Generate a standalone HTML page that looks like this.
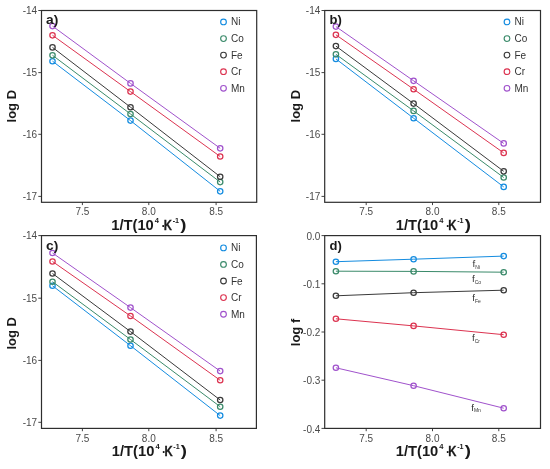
<!DOCTYPE html>
<html><head><meta charset="utf-8"><title>Figure</title>
<style>
html,body{margin:0;padding:0;background:#fff;}
body{width:550px;height:469px;overflow:hidden;}
svg{display:block;}
text{font-family:"Liberation Sans",sans-serif;}
.tk{font-size:10px;fill:#4a4a4a;}
.xl text{font-size:14.5px;font-weight:bold;fill:#1a1a1a;}
.xl text.sup{font-size:7.8px;}
.yl{font-size:13px;font-weight:bold;fill:#1a1a1a;}
.sup{font-size:9.4px;}
.lg{font-size:10px;fill:#333;}
.pl{font-size:13px;font-weight:bold;fill:#1a1a1a;}
.fl{font-size:9.9px;fill:#333;}
.sub{font-size:5px;}
</style></head><body>
<svg width="550" height="469" viewBox="0 0 550 469">
<rect x="0" y="0" width="550" height="469" fill="#ffffff"/>
<rect x="41.5" y="10.5" width="215.2" height="191.8" fill="none" stroke="#2e2e2e" stroke-width="1.2"/>
<line x1="38.3" y1="10.5" x2="41.5" y2="10.5" stroke="#2e2e2e" stroke-width="0.9"/>
<text x="37.1" y="14.1" text-anchor="end" class="tk">-14</text>
<line x1="38.3" y1="72.6" x2="41.5" y2="72.6" stroke="#2e2e2e" stroke-width="0.9"/>
<text x="37.1" y="76.19999999999999" text-anchor="end" class="tk">-15</text>
<line x1="38.3" y1="134.3" x2="41.5" y2="134.3" stroke="#2e2e2e" stroke-width="0.9"/>
<text x="37.1" y="137.9" text-anchor="end" class="tk">-16</text>
<line x1="38.3" y1="196.4" x2="41.5" y2="196.4" stroke="#2e2e2e" stroke-width="0.9"/>
<text x="37.1" y="200.0" text-anchor="end" class="tk">-17</text>
<line x1="82.4" y1="202.3" x2="82.4" y2="205.10000000000002" stroke="#2e2e2e" stroke-width="0.9"/>
<text x="82.4" y="215.0" text-anchor="middle" class="tk">7.5</text>
<line x1="148.8" y1="202.3" x2="148.8" y2="205.10000000000002" stroke="#2e2e2e" stroke-width="0.9"/>
<text x="148.8" y="215.0" text-anchor="middle" class="tk">8.0</text>
<line x1="216.1" y1="202.3" x2="216.1" y2="205.10000000000002" stroke="#2e2e2e" stroke-width="0.9"/>
<text x="216.1" y="215.0" text-anchor="middle" class="tk">8.5</text>
<g class="xl"><text x="111.2" y="229.9" textLength="42.6" lengthAdjust="spacingAndGlyphs">1/T(10</text><text x="154.8" y="222.5" class="sup" textLength="4.2" lengthAdjust="spacingAndGlyphs">4</text><text x="161.4" y="229.9" style="font-size:12px">·</text><text x="163.8" y="229.9" textLength="8.2" lengthAdjust="spacingAndGlyphs" stroke="#1a1a1a" stroke-width="0.35">K</text><text x="172.7" y="222.5" class="sup" textLength="6.4" lengthAdjust="spacingAndGlyphs">-1</text><text x="180.2" y="229.9" textLength="6.2" lengthAdjust="spacingAndGlyphs">)</text></g>
<text transform="translate(16.2,106.2) rotate(-90)" text-anchor="middle" class="yl">log D</text>
<polyline points="52.5,61.2 130.5,120.6 220.2,191.3" fill="none" stroke="#148ce0" stroke-width="1.0"/>
<circle cx="52.5" cy="61.2" r="2.7" fill="none" stroke="#148ce0" stroke-width="1.25"/>
<circle cx="130.5" cy="120.6" r="2.7" fill="none" stroke="#148ce0" stroke-width="1.25"/>
<circle cx="220.2" cy="191.3" r="2.7" fill="none" stroke="#148ce0" stroke-width="1.25"/>
<polyline points="52.5,55.3 130.5,114.0 220.2,182.1" fill="none" stroke="#3a8a6a" stroke-width="1.0"/>
<circle cx="52.5" cy="55.3" r="2.7" fill="none" stroke="#3a8a6a" stroke-width="1.25"/>
<circle cx="130.5" cy="114.0" r="2.7" fill="none" stroke="#3a8a6a" stroke-width="1.25"/>
<circle cx="220.2" cy="182.1" r="2.7" fill="none" stroke="#3a8a6a" stroke-width="1.25"/>
<polyline points="52.5,47.4 130.5,107.2 220.2,176.7" fill="none" stroke="#3a3a3a" stroke-width="1.0"/>
<circle cx="52.5" cy="47.4" r="2.7" fill="none" stroke="#3a3a3a" stroke-width="1.25"/>
<circle cx="130.5" cy="107.2" r="2.7" fill="none" stroke="#3a3a3a" stroke-width="1.25"/>
<circle cx="220.2" cy="176.7" r="2.7" fill="none" stroke="#3a3a3a" stroke-width="1.25"/>
<polyline points="52.5,35.3 130.5,91.6 220.2,156.5" fill="none" stroke="#dc3350" stroke-width="1.0"/>
<circle cx="52.5" cy="35.3" r="2.7" fill="none" stroke="#dc3350" stroke-width="1.25"/>
<circle cx="130.5" cy="91.6" r="2.7" fill="none" stroke="#dc3350" stroke-width="1.25"/>
<circle cx="220.2" cy="156.5" r="2.7" fill="none" stroke="#dc3350" stroke-width="1.25"/>
<polyline points="52.5,26.1 130.5,83.4 220.2,148.3" fill="none" stroke="#a052cc" stroke-width="1.0"/>
<circle cx="52.5" cy="26.1" r="2.7" fill="none" stroke="#a052cc" stroke-width="1.25"/>
<circle cx="130.5" cy="83.4" r="2.7" fill="none" stroke="#a052cc" stroke-width="1.25"/>
<circle cx="220.2" cy="148.3" r="2.7" fill="none" stroke="#a052cc" stroke-width="1.25"/>
<circle cx="223.5" cy="21.9" r="2.85" fill="none" stroke="#148ce0" stroke-width="1.15"/>
<text x="231.0" y="25.4" class="lg">Ni</text>
<circle cx="223.5" cy="38.6" r="2.85" fill="none" stroke="#3a8a6a" stroke-width="1.15"/>
<text x="231.0" y="42.1" class="lg">Co</text>
<circle cx="223.5" cy="55.1" r="2.85" fill="none" stroke="#3a3a3a" stroke-width="1.15"/>
<text x="231.0" y="58.6" class="lg">Fe</text>
<circle cx="223.5" cy="71.7" r="2.85" fill="none" stroke="#dc3350" stroke-width="1.15"/>
<text x="231.0" y="75.2" class="lg">Cr</text>
<circle cx="223.5" cy="88.3" r="2.85" fill="none" stroke="#a052cc" stroke-width="1.15"/>
<text x="231.0" y="91.8" class="lg">Mn</text>
<text x="46.0" y="24.2" class="pl" textLength="12.3" lengthAdjust="spacingAndGlyphs">a)</text>
<rect x="324.7" y="10.5" width="215.8" height="191.8" fill="none" stroke="#2e2e2e" stroke-width="1.2"/>
<line x1="321.5" y1="10.5" x2="324.7" y2="10.5" stroke="#2e2e2e" stroke-width="0.9"/>
<text x="320.3" y="14.1" text-anchor="end" class="tk">-14</text>
<line x1="321.5" y1="72.6" x2="324.7" y2="72.6" stroke="#2e2e2e" stroke-width="0.9"/>
<text x="320.3" y="76.19999999999999" text-anchor="end" class="tk">-15</text>
<line x1="321.5" y1="134.3" x2="324.7" y2="134.3" stroke="#2e2e2e" stroke-width="0.9"/>
<text x="320.3" y="137.9" text-anchor="end" class="tk">-16</text>
<line x1="321.5" y1="196.4" x2="324.7" y2="196.4" stroke="#2e2e2e" stroke-width="0.9"/>
<text x="320.3" y="200.0" text-anchor="end" class="tk">-17</text>
<line x1="366.2" y1="202.3" x2="366.2" y2="205.10000000000002" stroke="#2e2e2e" stroke-width="0.9"/>
<text x="366.2" y="215.0" text-anchor="middle" class="tk">7.5</text>
<line x1="432.5" y1="202.3" x2="432.5" y2="205.10000000000002" stroke="#2e2e2e" stroke-width="0.9"/>
<text x="432.5" y="215.0" text-anchor="middle" class="tk">8.0</text>
<line x1="498.8" y1="202.3" x2="498.8" y2="205.10000000000002" stroke="#2e2e2e" stroke-width="0.9"/>
<text x="498.8" y="215.0" text-anchor="middle" class="tk">8.5</text>
<g class="xl"><text x="395.7" y="229.9" textLength="42.6" lengthAdjust="spacingAndGlyphs">1/T(10</text><text x="439.3" y="222.5" class="sup" textLength="4.2" lengthAdjust="spacingAndGlyphs">4</text><text x="445.9" y="229.9" style="font-size:12px">·</text><text x="448.3" y="229.9" textLength="8.2" lengthAdjust="spacingAndGlyphs" stroke="#1a1a1a" stroke-width="0.35">K</text><text x="457.2" y="222.5" class="sup" textLength="6.4" lengthAdjust="spacingAndGlyphs">-1</text><text x="464.7" y="229.9" textLength="6.2" lengthAdjust="spacingAndGlyphs">)</text></g>
<text transform="translate(299.7,106.2) rotate(-90)" text-anchor="middle" class="yl">log D</text>
<polyline points="335.9,58.9 413.6,118.2 503.7,186.9" fill="none" stroke="#148ce0" stroke-width="1.0"/>
<circle cx="335.9" cy="58.9" r="2.7" fill="none" stroke="#148ce0" stroke-width="1.25"/>
<circle cx="413.6" cy="118.2" r="2.7" fill="none" stroke="#148ce0" stroke-width="1.25"/>
<circle cx="503.7" cy="186.9" r="2.7" fill="none" stroke="#148ce0" stroke-width="1.25"/>
<polyline points="335.9,54.3 413.6,110.9 503.7,177.5" fill="none" stroke="#3a8a6a" stroke-width="1.0"/>
<circle cx="335.9" cy="54.3" r="2.7" fill="none" stroke="#3a8a6a" stroke-width="1.25"/>
<circle cx="413.6" cy="110.9" r="2.7" fill="none" stroke="#3a8a6a" stroke-width="1.25"/>
<circle cx="503.7" cy="177.5" r="2.7" fill="none" stroke="#3a8a6a" stroke-width="1.25"/>
<polyline points="335.9,46.1 413.6,103.6 503.7,171.3" fill="none" stroke="#3a3a3a" stroke-width="1.0"/>
<circle cx="335.9" cy="46.1" r="2.7" fill="none" stroke="#3a3a3a" stroke-width="1.25"/>
<circle cx="413.6" cy="103.6" r="2.7" fill="none" stroke="#3a3a3a" stroke-width="1.25"/>
<circle cx="503.7" cy="171.3" r="2.7" fill="none" stroke="#3a3a3a" stroke-width="1.25"/>
<polyline points="335.9,34.8 413.6,89.2 503.7,152.9" fill="none" stroke="#dc3350" stroke-width="1.0"/>
<circle cx="335.9" cy="34.8" r="2.7" fill="none" stroke="#dc3350" stroke-width="1.25"/>
<circle cx="413.6" cy="89.2" r="2.7" fill="none" stroke="#dc3350" stroke-width="1.25"/>
<circle cx="503.7" cy="152.9" r="2.7" fill="none" stroke="#dc3350" stroke-width="1.25"/>
<polyline points="335.9,26.6 413.6,80.8 503.7,143.4" fill="none" stroke="#a052cc" stroke-width="1.0"/>
<circle cx="335.9" cy="26.6" r="2.7" fill="none" stroke="#a052cc" stroke-width="1.25"/>
<circle cx="413.6" cy="80.8" r="2.7" fill="none" stroke="#a052cc" stroke-width="1.25"/>
<circle cx="503.7" cy="143.4" r="2.7" fill="none" stroke="#a052cc" stroke-width="1.25"/>
<circle cx="507.0" cy="21.9" r="2.85" fill="none" stroke="#148ce0" stroke-width="1.15"/>
<text x="514.5" y="25.4" class="lg">Ni</text>
<circle cx="507.0" cy="38.6" r="2.85" fill="none" stroke="#3a8a6a" stroke-width="1.15"/>
<text x="514.5" y="42.1" class="lg">Co</text>
<circle cx="507.0" cy="55.1" r="2.85" fill="none" stroke="#3a3a3a" stroke-width="1.15"/>
<text x="514.5" y="58.6" class="lg">Fe</text>
<circle cx="507.0" cy="71.7" r="2.85" fill="none" stroke="#dc3350" stroke-width="1.15"/>
<text x="514.5" y="75.2" class="lg">Cr</text>
<circle cx="507.0" cy="88.3" r="2.85" fill="none" stroke="#a052cc" stroke-width="1.15"/>
<text x="514.5" y="91.8" class="lg">Mn</text>
<text x="329.5" y="24.2" class="pl" textLength="12.3" lengthAdjust="spacingAndGlyphs">b)</text>
<rect x="41.5" y="235.6" width="214.9" height="192.8" fill="none" stroke="#2e2e2e" stroke-width="1.2"/>
<line x1="38.3" y1="235.6" x2="41.5" y2="235.6" stroke="#2e2e2e" stroke-width="0.9"/>
<text x="37.1" y="239.2" text-anchor="end" class="tk">-14</text>
<line x1="38.3" y1="298.2" x2="41.5" y2="298.2" stroke="#2e2e2e" stroke-width="0.9"/>
<text x="37.1" y="301.8" text-anchor="end" class="tk">-15</text>
<line x1="38.3" y1="360.4" x2="41.5" y2="360.4" stroke="#2e2e2e" stroke-width="0.9"/>
<text x="37.1" y="364.0" text-anchor="end" class="tk">-16</text>
<line x1="38.3" y1="422.3" x2="41.5" y2="422.3" stroke="#2e2e2e" stroke-width="0.9"/>
<text x="37.1" y="425.90000000000003" text-anchor="end" class="tk">-17</text>
<line x1="82.4" y1="428.4" x2="82.4" y2="431.2" stroke="#2e2e2e" stroke-width="0.9"/>
<text x="82.4" y="442.09999999999997" text-anchor="middle" class="tk">7.5</text>
<line x1="148.8" y1="428.4" x2="148.8" y2="431.2" stroke="#2e2e2e" stroke-width="0.9"/>
<text x="148.8" y="442.09999999999997" text-anchor="middle" class="tk">8.0</text>
<line x1="216.1" y1="428.4" x2="216.1" y2="431.2" stroke="#2e2e2e" stroke-width="0.9"/>
<text x="216.1" y="442.09999999999997" text-anchor="middle" class="tk">8.5</text>
<g class="xl"><text x="111.8" y="456.3" textLength="42.6" lengthAdjust="spacingAndGlyphs">1/T(10</text><text x="155.4" y="448.9" class="sup" textLength="4.2" lengthAdjust="spacingAndGlyphs">4</text><text x="162.0" y="456.3" style="font-size:12px">·</text><text x="164.4" y="456.3" textLength="8.2" lengthAdjust="spacingAndGlyphs" stroke="#1a1a1a" stroke-width="0.35">K</text><text x="173.3" y="448.9" class="sup" textLength="6.4" lengthAdjust="spacingAndGlyphs">-1</text><text x="180.8" y="456.3" textLength="6.2" lengthAdjust="spacingAndGlyphs">)</text></g>
<text transform="translate(16.2,333.3) rotate(-90)" text-anchor="middle" class="yl">log D</text>
<polyline points="52.5,285.8 130.5,345.7 220.2,415.6" fill="none" stroke="#148ce0" stroke-width="1.0"/>
<circle cx="52.5" cy="285.8" r="2.7" fill="none" stroke="#148ce0" stroke-width="1.25"/>
<circle cx="130.5" cy="345.7" r="2.7" fill="none" stroke="#148ce0" stroke-width="1.25"/>
<circle cx="220.2" cy="415.6" r="2.7" fill="none" stroke="#148ce0" stroke-width="1.25"/>
<polyline points="52.5,281.7 130.5,339.5 220.2,406.7" fill="none" stroke="#3a8a6a" stroke-width="1.0"/>
<circle cx="52.5" cy="281.7" r="2.7" fill="none" stroke="#3a8a6a" stroke-width="1.25"/>
<circle cx="130.5" cy="339.5" r="2.7" fill="none" stroke="#3a8a6a" stroke-width="1.25"/>
<circle cx="220.2" cy="406.7" r="2.7" fill="none" stroke="#3a8a6a" stroke-width="1.25"/>
<polyline points="52.5,273.5 130.5,331.6 220.2,400.0" fill="none" stroke="#3a3a3a" stroke-width="1.0"/>
<circle cx="52.5" cy="273.5" r="2.7" fill="none" stroke="#3a3a3a" stroke-width="1.25"/>
<circle cx="130.5" cy="331.6" r="2.7" fill="none" stroke="#3a3a3a" stroke-width="1.25"/>
<circle cx="220.2" cy="400.0" r="2.7" fill="none" stroke="#3a3a3a" stroke-width="1.25"/>
<polyline points="52.5,261.5 130.5,316.0 220.2,380.3" fill="none" stroke="#dc3350" stroke-width="1.0"/>
<circle cx="52.5" cy="261.5" r="2.7" fill="none" stroke="#dc3350" stroke-width="1.25"/>
<circle cx="130.5" cy="316.0" r="2.7" fill="none" stroke="#dc3350" stroke-width="1.25"/>
<circle cx="220.2" cy="380.3" r="2.7" fill="none" stroke="#dc3350" stroke-width="1.25"/>
<polyline points="52.5,253.0 130.5,307.6 220.2,371.1" fill="none" stroke="#a052cc" stroke-width="1.0"/>
<circle cx="52.5" cy="253.0" r="2.7" fill="none" stroke="#a052cc" stroke-width="1.25"/>
<circle cx="130.5" cy="307.6" r="2.7" fill="none" stroke="#a052cc" stroke-width="1.25"/>
<circle cx="220.2" cy="371.1" r="2.7" fill="none" stroke="#a052cc" stroke-width="1.25"/>
<circle cx="223.5" cy="247.9" r="2.85" fill="none" stroke="#148ce0" stroke-width="1.15"/>
<text x="231.0" y="251.4" class="lg">Ni</text>
<circle cx="223.5" cy="264.4" r="2.85" fill="none" stroke="#3a8a6a" stroke-width="1.15"/>
<text x="231.0" y="267.9" class="lg">Co</text>
<circle cx="223.5" cy="281.0" r="2.85" fill="none" stroke="#3a3a3a" stroke-width="1.15"/>
<text x="231.0" y="284.5" class="lg">Fe</text>
<circle cx="223.5" cy="297.6" r="2.85" fill="none" stroke="#dc3350" stroke-width="1.15"/>
<text x="231.0" y="301.1" class="lg">Cr</text>
<circle cx="223.5" cy="314.2" r="2.85" fill="none" stroke="#a052cc" stroke-width="1.15"/>
<text x="231.0" y="317.7" class="lg">Mn</text>
<text x="46.0" y="250.0" class="pl" textLength="12.3" lengthAdjust="spacingAndGlyphs">c)</text>
<rect x="324.7" y="235.6" width="215.8" height="192.8" fill="none" stroke="#2e2e2e" stroke-width="1.2"/>
<line x1="321.5" y1="235.6" x2="324.7" y2="235.6" stroke="#2e2e2e" stroke-width="0.9"/>
<text x="320.3" y="239.7" text-anchor="end" class="tk">0.0</text>
<line x1="321.5" y1="283.8" x2="324.7" y2="283.8" stroke="#2e2e2e" stroke-width="0.9"/>
<text x="320.3" y="287.90000000000003" text-anchor="end" class="tk">-0.1</text>
<line x1="321.5" y1="332.0" x2="324.7" y2="332.0" stroke="#2e2e2e" stroke-width="0.9"/>
<text x="320.3" y="336.1" text-anchor="end" class="tk">-0.2</text>
<line x1="321.5" y1="380.2" x2="324.7" y2="380.2" stroke="#2e2e2e" stroke-width="0.9"/>
<text x="320.3" y="384.3" text-anchor="end" class="tk">-0.3</text>
<line x1="321.5" y1="428.4" x2="324.7" y2="428.4" stroke="#2e2e2e" stroke-width="0.9"/>
<text x="320.3" y="432.5" text-anchor="end" class="tk">-0.4</text>
<line x1="366.2" y1="428.4" x2="366.2" y2="431.2" stroke="#2e2e2e" stroke-width="0.9"/>
<text x="366.2" y="442.09999999999997" text-anchor="middle" class="tk">7.5</text>
<line x1="432.5" y1="428.4" x2="432.5" y2="431.2" stroke="#2e2e2e" stroke-width="0.9"/>
<text x="432.5" y="442.09999999999997" text-anchor="middle" class="tk">8.0</text>
<line x1="498.8" y1="428.4" x2="498.8" y2="431.2" stroke="#2e2e2e" stroke-width="0.9"/>
<text x="498.8" y="442.09999999999997" text-anchor="middle" class="tk">8.5</text>
<g class="xl"><text x="395.7" y="456.3" textLength="42.6" lengthAdjust="spacingAndGlyphs">1/T(10</text><text x="439.3" y="448.9" class="sup" textLength="4.2" lengthAdjust="spacingAndGlyphs">4</text><text x="445.9" y="456.3" style="font-size:12px">·</text><text x="448.3" y="456.3" textLength="8.2" lengthAdjust="spacingAndGlyphs" stroke="#1a1a1a" stroke-width="0.35">K</text><text x="457.2" y="448.9" class="sup" textLength="6.4" lengthAdjust="spacingAndGlyphs">-1</text><text x="464.7" y="456.3" textLength="6.2" lengthAdjust="spacingAndGlyphs">)</text></g>
<text transform="translate(299.7,332.5) rotate(-90)" text-anchor="middle" class="yl">log f</text>
<polyline points="335.9,261.7 413.6,259.2 503.7,256.1" fill="none" stroke="#148ce0" stroke-width="1.0"/>
<circle cx="335.9" cy="261.7" r="2.7" fill="none" stroke="#148ce0" stroke-width="1.25"/>
<circle cx="413.6" cy="259.2" r="2.7" fill="none" stroke="#148ce0" stroke-width="1.25"/>
<circle cx="503.7" cy="256.1" r="2.7" fill="none" stroke="#148ce0" stroke-width="1.25"/>
<polyline points="335.9,271.2 413.6,271.4 503.7,272.2" fill="none" stroke="#3a8a6a" stroke-width="1.0"/>
<circle cx="335.9" cy="271.2" r="2.7" fill="none" stroke="#3a8a6a" stroke-width="1.25"/>
<circle cx="413.6" cy="271.4" r="2.7" fill="none" stroke="#3a8a6a" stroke-width="1.25"/>
<circle cx="503.7" cy="272.2" r="2.7" fill="none" stroke="#3a8a6a" stroke-width="1.25"/>
<polyline points="335.9,295.8 413.6,292.7 503.7,290.2" fill="none" stroke="#3a3a3a" stroke-width="1.0"/>
<circle cx="335.9" cy="295.8" r="2.7" fill="none" stroke="#3a3a3a" stroke-width="1.25"/>
<circle cx="413.6" cy="292.7" r="2.7" fill="none" stroke="#3a3a3a" stroke-width="1.25"/>
<circle cx="503.7" cy="290.2" r="2.7" fill="none" stroke="#3a3a3a" stroke-width="1.25"/>
<polyline points="335.9,318.8 413.6,325.9 503.7,334.7" fill="none" stroke="#dc3350" stroke-width="1.0"/>
<circle cx="335.9" cy="318.8" r="2.7" fill="none" stroke="#dc3350" stroke-width="1.25"/>
<circle cx="413.6" cy="325.9" r="2.7" fill="none" stroke="#dc3350" stroke-width="1.25"/>
<circle cx="503.7" cy="334.7" r="2.7" fill="none" stroke="#dc3350" stroke-width="1.25"/>
<polyline points="335.9,367.8 413.6,385.7 503.7,408.2" fill="none" stroke="#a052cc" stroke-width="1.0"/>
<circle cx="335.9" cy="367.8" r="2.7" fill="none" stroke="#a052cc" stroke-width="1.25"/>
<circle cx="413.6" cy="385.7" r="2.7" fill="none" stroke="#a052cc" stroke-width="1.25"/>
<circle cx="503.7" cy="408.2" r="2.7" fill="none" stroke="#a052cc" stroke-width="1.25"/>
<text x="329.5" y="250.0" class="pl" textLength="12.3" lengthAdjust="spacingAndGlyphs">d)</text>
<text x="472.5" y="266.9" class="fl">f<tspan class="sub" dy="1.8">Ni</tspan></text>
<text x="472.0" y="281.7" class="fl">f<tspan class="sub" dy="1.8">Co</tspan></text>
<text x="472.2" y="301.3" class="fl">f<tspan class="sub" dy="1.8">Fe</tspan></text>
<text x="472.0" y="341.3" class="fl">f<tspan class="sub" dy="1.8">Cr</tspan></text>
<text x="471.2" y="410.5" class="fl">f<tspan class="sub" dy="1.8">Mn</tspan></text>
</svg>
</body></html>
